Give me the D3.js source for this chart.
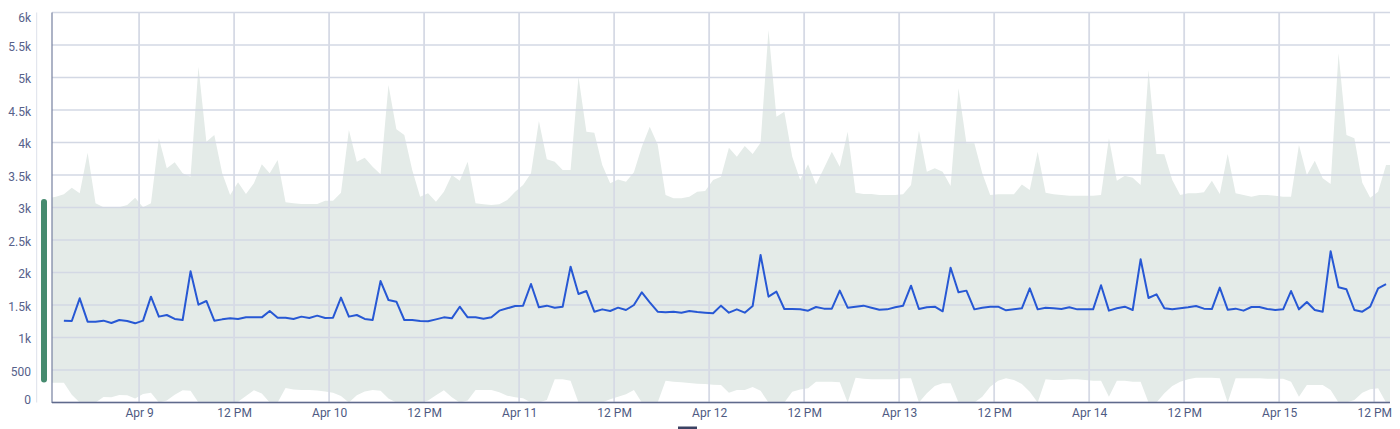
<!DOCTYPE html>
<html><head><meta charset="utf-8">
<script src="https://cdn.jsdelivr.net/npm/d3@7/dist/d3.min.js"></script>
<style>
html,body{margin:0;padding:0;background:#fff;}
svg{display:block;font-family:Roboto,"Noto Sans",sans-serif;}
</style></head>
<body>
<svg id="chart" width="1400" height="429"></svg>
<script>
// hourly mean series, first point Apr 8 14:30
const lineValues = [1259,1254,1603,1244,1244,1259,1223,1269,1254,1218,
1259,1628,1321,1346,1285,1269,2018,1505,1562,1259,
1279,1295,1285,1310,1310,1310,1408,1305,1305,1285,
1321,1300,1336,1300,1305,1613,1321,1346,1285,1269,
1869,1577,1551,1269,1269,1254,1249,1279,1310,1295,
1474,1310,1310,1290,1310,1413,1449,1485,1490,1823,
1464,1490,1459,1474,2090,1669,1715,1397,1433,1408,
1459,1423,1500,1695,1541,1397,1387,1397,1382,1408,
1392,1382,1372,1490,1382,1433,1382,1485,2269,1628,
1705,1438,1438,1433,1413,1469,1444,1444,1721,1459,
1474,1490,1459,1428,1433,1464,1490,1797,1438,1464,
1474,1403,2074,1695,1721,1433,1459,1474,1474,1418,
1433,1449,1756,1433,1459,1449,1438,1464,1433,1433,
1433,1803,1413,1449,1474,1423,2203,1608,1664,1449,
1433,1449,1464,1485,1444,1438,1767,1428,1444,1413,
1469,1469,1438,1423,1433,1715,1433,1546,1423,1397,
2326,1772,1741,1423,1397,1474,1756,1823];

// band bounds, hourly, first point Apr 8 12:30
const upperValues = [3140,3167,3203,3305,3218,3844,3064,3003,3003,3003,3038,3151,3003,3064,4064,3603,3695,3526,3474,5167,
4013,4115,3526,3192,3387,3208,3372,3664,3526,3731,3079,3064,3054,3054,3054,3105,3105,3228,4192,3705,
3767,3628,3510,4885,4203,4115,3577,3167,3218,3090,3244,3500,3413,3705,3064,3049,3038,3049,3115,3244,
3346,3526,4331,3741,3705,3577,3577,5013,4167,4151,3654,3372,3431,3395,3541,3936,4244,3971,3192,3141,
3141,3167,3244,3254,3423,3474,3921,3782,3946,3823,3997,5731,4397,4474,3782,3423,3664,3354,3603,3859,
3628,4167,3228,3208,3208,3192,3192,3192,3203,3346,4182,3551,3603,3551,3331,4833,3987,3987,3526,3192,
3203,3203,3203,3354,3269,3859,3228,3203,3192,3182,3182,3182,3182,3192,4064,3413,3490,3459,3346,5115,
3823,3818,3423,3192,3218,3218,3233,3413,3208,3823,3218,3192,3167,3192,3192,3182,3167,3167,3962,3500,
3721,3449,3362,5372,4115,4064,3382,3151,3244,3654,3654];
const lowerValues = [300,305,305,120,0,0,0,85,80,115,110,60,130,150,0,30,120,190,180,0,
0,0,0,0,13,100,190,140,0,0,223,200,192,192,185,170,150,100,0,110,
170,192,182,60,0,0,0,0,30,110,190,80,0,30,192,192,192,156,105,79,
64,0,0,38,356,356,336,0,0,0,0,49,90,126,192,0,0,0,336,320,
310,300,290,285,275,269,150,192,192,240,180,0,0,0,166,200,220,320,320,320,
310,0,382,367,356,356,356,356,372,372,0,141,254,295,295,0,0,0,90,244,
336,372,346,285,167,0,356,346,346,356,356,346,336,336,90,336,336,320,320,0,
0,141,254,320,356,382,382,382,372,0,372,372,372,372,367,367,367,320,90,269,
269,269,192,0,0,38,151,203,218,0,0];

const yTicks = [0,500,1000,1500,2000,2500,3000,3500,4000,4500,5000,5500,6000];
const yTickLabels = ["0","500","1k","1.5k","2k","2.5k","3k","3.5k","4k","4.5k","5k","5.5k","6k"];

const H = 3600e3;
const lineStart = Date.UTC(2024,3,8,14,30);
const bandStart = Date.UTC(2024,3,8,12,30);
const lineData = lineValues.map((v,i)=>({t:new Date(lineStart+i*H), v}));
const bandData = upperValues.map((u,i)=>({t:new Date(bandStart+i*H), hi:u, lo:lowerValues[i]}));

const L=52, R=1390, T=12.5, B=402.5;
const x = d3.scaleUtc().domain([new Date(Date.UTC(2024,3,8,13)), new Date(Date.UTC(2024,3,15,14))]).range([L,R]);
const y = d3.scaleLinear().domain([0,6000]).range([B,T]);

const svg = d3.select("#chart");
svg.append("defs").append("clipPath").attr("id","clip")
  .append("rect").attr("x",L).attr("y",T-5).attr("width",R-L).attr("height",B-T+5);

// band
svg.append("path").datum(bandData).attr("clip-path","url(#clip)")
  .attr("fill","#e4ebe8")
  .attr("d", d3.area().x(d=>x(d.t)).y0(d=>y(d.lo)).y1(d=>y(d.hi)));

// grid
const xTicks = x.ticks(d3.utcHour.every(12));
svg.append("g").selectAll("line").data(yTicks).join("line")
  .attr("x1",L).attr("x2",R).attr("y1",d=>y(d)).attr("y2",d=>y(d))
  .attr("stroke","#d3d8e4").attr("stroke-width",1.3);
svg.append("g").selectAll("line").data(xTicks).join("line")
  .attr("x1",d=>x(d)).attr("x2",d=>x(d)).attr("y1",T).attr("y2",B)
  .attr("stroke","#d6dae5").attr("stroke-width",1.8);

// line
svg.append("path").datum(lineData).attr("clip-path","url(#clip)")
  .attr("fill","none").attr("stroke","#2758d4").attr("stroke-width",2)
  .attr("stroke-linejoin","round")
  .attr("d", d3.line().x(d=>x(d.t)).y(d=>y(d.v)));

// axes lines
svg.append("line").attr("x1",L).attr("x2",L).attr("y1",T).attr("y2",B+0.5)
  .attr("stroke","#76809f").attr("stroke-width",1.2);
svg.append("line").attr("x1",L).attr("x2",R).attr("y1",B).attr("y2",B)
  .attr("stroke","#5f6a8c").attr("stroke-width",1.4);
svg.append("line").attr("x1",36.7).attr("x2",36.7).attr("y1",T).attr("y2",B)
  .attr("stroke","#dde1ea").attr("stroke-width",1);

// y labels via axis
const yAxis = svg.append("g").attr("transform",`translate(31,0)`)
  .call(d3.axisLeft(y).tickValues(yTicks).tickSize(0).tickPadding(0)
    .tickFormat((d,i)=>yTickLabels[i]));
yAxis.select(".domain").remove();
yAxis.selectAll("text").attr("fill","#56618a").attr("font-size",12)
  .attr("font-family","Roboto,'Noto Sans',sans-serif")
  .attr("dy",null).attr("dominant-baseline","central")
  .attr("y",d=>Math.max(17.5,Math.min(399,y(d)+1))-y(d));

// x labels via axis
const fmt = d=> d.getUTCHours()===0 ? d3.utcFormat("%b %-d")(d) : d3.utcFormat("%-I %p")(d);
const xAxis = svg.append("g").attr("transform",`translate(0,${B})`)
  .call(d3.axisBottom(x).tickValues(xTicks).tickSize(0).tickPadding(0).tickFormat(fmt));
xAxis.select(".domain").remove();
xAxis.selectAll("text").attr("fill","#4e5a82").attr("font-size",12)
  .attr("font-family","Roboto,'Noto Sans',sans-serif")
  .attr("dy",null).attr("dominant-baseline","central").attr("y",10);

// y-range handle
svg.append("rect").attr("x",41).attr("y",199).attr("width",6).attr("height",183.5)
  .attr("rx",3).attr("fill","#468b6f");
// bottom scroll marker
svg.append("rect").attr("x",678).attr("y",426.5).attr("width",19).attr("height",3)
  .attr("fill","#3b4263");
</script>
</body></html>
